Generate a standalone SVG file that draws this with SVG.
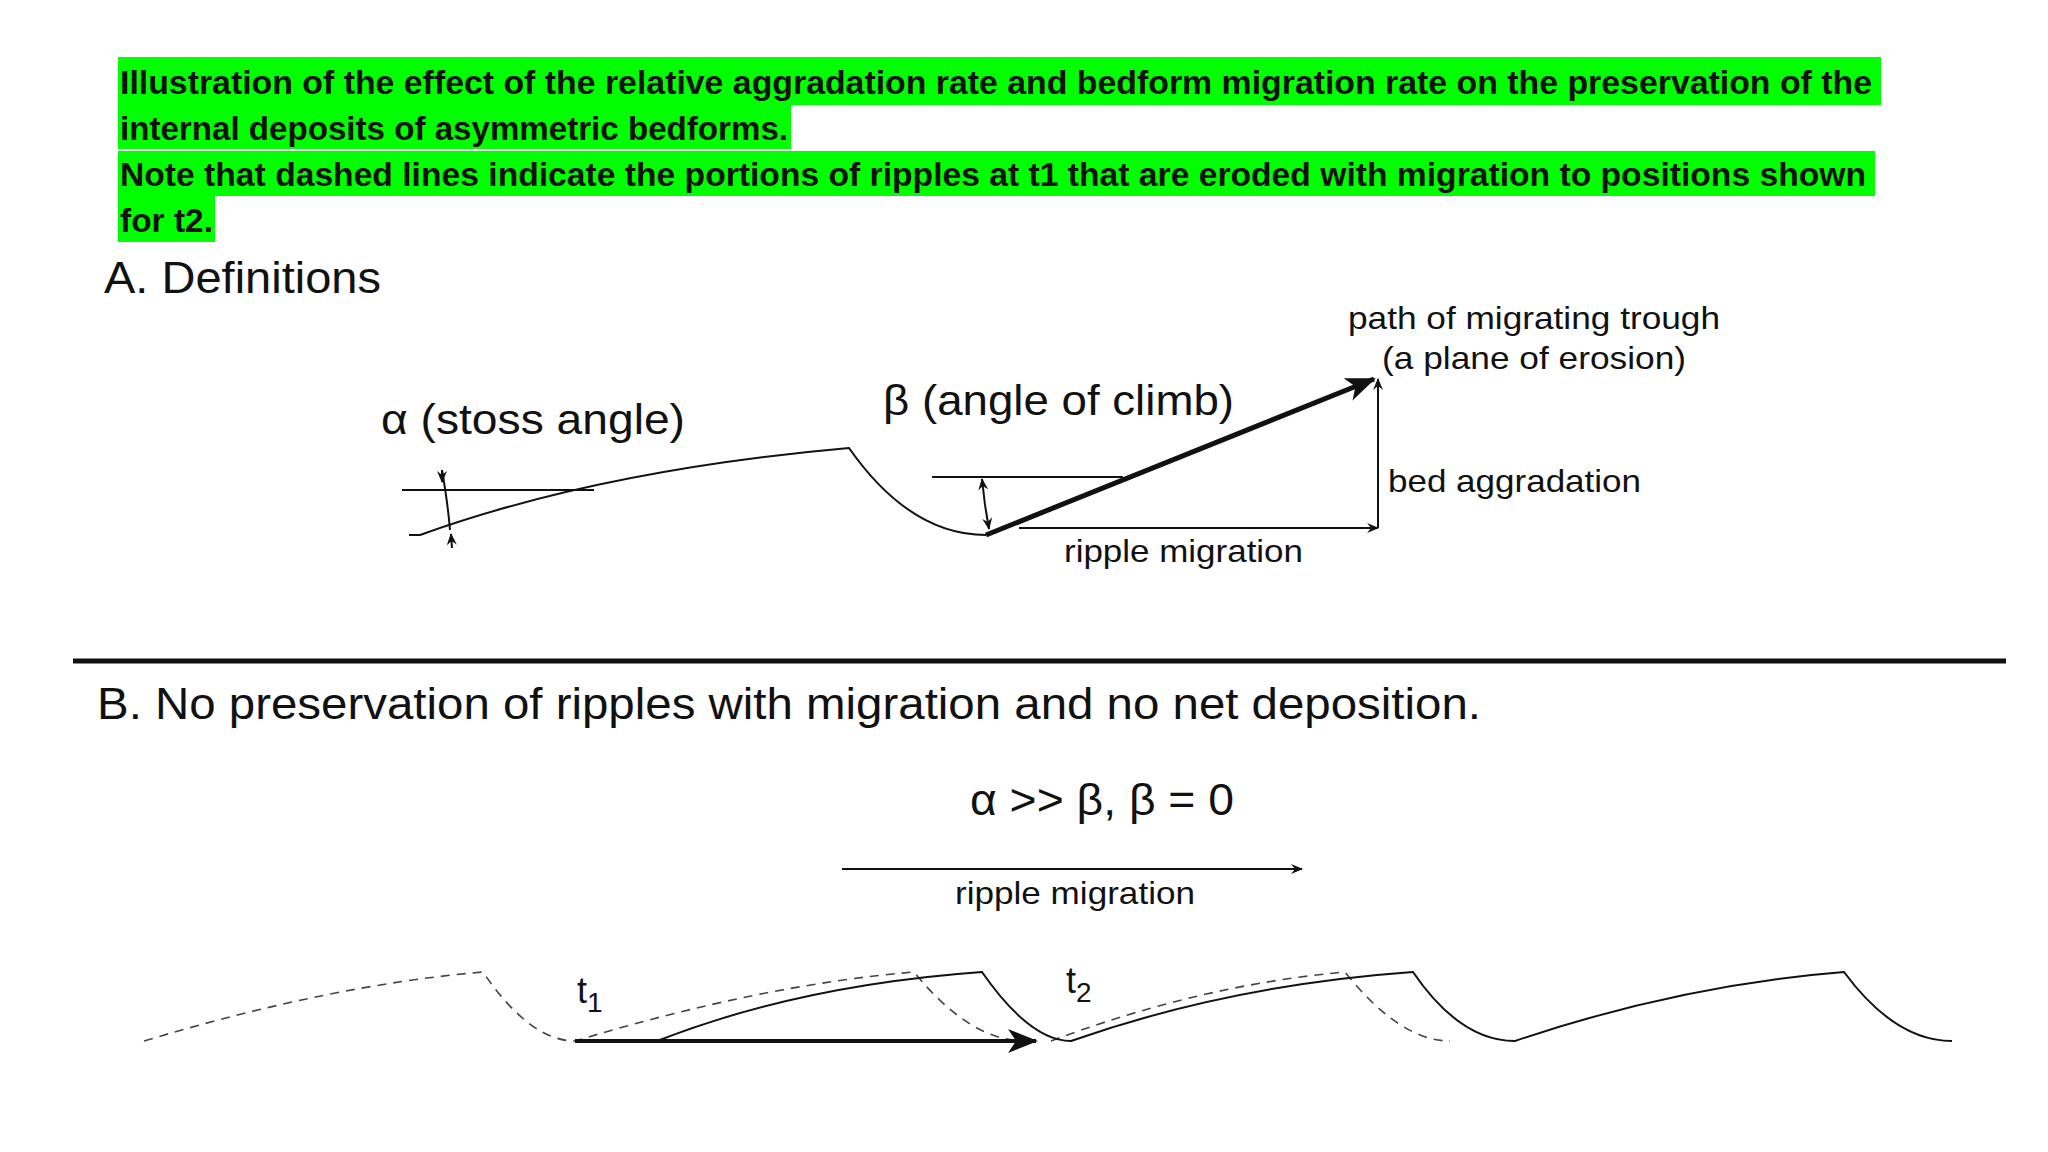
<svg xmlns="http://www.w3.org/2000/svg" width="2048" height="1152" viewBox="0 0 2048 1152">
<defs>
<style>
.hl{fill:#00ff00}
.tt{font-family:"Liberation Sans",Arial,sans-serif;font-weight:bold;font-size:33px;fill:#111}
.t{font-family:"Liberation Sans",Arial,sans-serif;fill:#111}
.ln{fill:none;stroke:#111;stroke-width:2}
.ds{fill:none;stroke:#444;stroke-width:1.6;stroke-dasharray:9,7}
</style>
<marker id="ah" markerWidth="12" markerHeight="10" refX="11" refY="5" orient="auto" markerUnits="userSpaceOnUse"><path d="M0,0 L12,5 L0,10 L4,5 Z" fill="#111"/></marker>
<marker id="ahb" markerWidth="30" markerHeight="24" refX="28" refY="12" orient="auto" markerUnits="userSpaceOnUse"><path d="M0,0 L30,12 L0,24 L8,12 Z" fill="#111"/></marker>
</defs>
<rect width="2048" height="1152" fill="#fff"/>
<g id="title">
<rect class="hl" x="118" y="57" width="1763" height="48"/>
<rect class="hl" x="118" y="105" width="673" height="44"/>
<rect class="hl" x="118" y="151" width="1757" height="45"/>
<rect class="hl" x="118" y="196" width="97" height="46"/>
<text class="tt" x="120" y="94" textLength="1752" lengthAdjust="spacingAndGlyphs">Illustration of the effect of the relative aggradation rate and bedform migration rate on the preservation of the</text>
<text class="tt" x="120" y="140" textLength="668" lengthAdjust="spacingAndGlyphs">internal deposits of asymmetric bedforms.</text>
<text class="tt" x="120" y="186" textLength="1746" lengthAdjust="spacingAndGlyphs">Note that dashed lines indicate the portions of ripples at t1 that are eroded with migration to positions shown</text>
<text class="tt" x="120" y="232" textLength="93" lengthAdjust="spacingAndGlyphs">for t2.</text>
</g>
<g id="sectionA">
<text class="t" x="104" y="293" font-size="44" textLength="277" lengthAdjust="spacingAndGlyphs">A. Definitions</text>
<text class="t" x="381" y="434" font-size="42" textLength="304" lengthAdjust="spacingAndGlyphs">α (stoss angle)</text>
<text class="t" x="883" y="415" font-size="42" textLength="351" lengthAdjust="spacingAndGlyphs">β (angle of climb)</text>
<text class="t" x="1348" y="329" font-size="32" textLength="372" lengthAdjust="spacingAndGlyphs">path of migrating trough</text>
<text class="t" x="1382" y="369" font-size="32" textLength="304" lengthAdjust="spacingAndGlyphs">(a plane of erosion)</text>
<text class="t" x="1388" y="492" font-size="32" textLength="253" lengthAdjust="spacingAndGlyphs">bed aggradation</text>
<text class="t" x="1064" y="562" font-size="32" textLength="239" lengthAdjust="spacingAndGlyphs">ripple migration</text>
</g>
<g id="connectors">
<path class="ln" d="M409,535 L420,535 Q600,470 849,448 Q910,535 986,535"/>
<line class="ln" x1="402" y1="490" x2="594" y2="490"/>
<path class="ln" d="M442,470 Q448,505 450,530"/>
<path class="ln" d="M442,470 l0,12" marker-end="url(#ah)"/>
<path class="ln" d="M452,548 l-1,-14" marker-end="url(#ah)"/>
<line class="ln" x1="932" y1="477" x2="1123" y2="477"/>
<line x1="986" y1="535" x2="1374" y2="379" stroke="#111" stroke-width="5" marker-end="url(#ahb)"/>
<line class="ln" x1="985" y1="505" x2="982" y2="479" marker-end="url(#ah)"/>
<line class="ln" x1="985" y1="505" x2="989" y2="529" marker-end="url(#ah)"/>
<line class="ln" x1="1019" y1="528" x2="1378" y2="528" marker-end="url(#ah)"/>
<line class="ln" x1="1378" y1="528" x2="1378" y2="379" marker-end="url(#ah)"/>
<line x1="73" y1="661" x2="2006" y2="661" stroke="#111" stroke-width="5"/>
<line class="ln" x1="842" y1="869" x2="1302" y2="869" marker-end="url(#ah)"/>
<path class="ds" d="M144,1041 Q330,985 483,972 Q530,1041 575,1041 Q760,985 914,972 Q970,1041 1025,1041"/>
<path class="ds" d="M1051,1041 Q1200,985 1345,972 Q1400,1041 1450,1041"/>
<path class="ln" d="M657,1041 Q800,985 982,972 Q1030,1041 1071,1041 Q1230,985 1413,972 Q1460,1041 1515,1041 Q1680,985 1844,972 Q1895,1041 1952,1041"/>
<line x1="575" y1="1041" x2="1036" y2="1041" stroke="#111" stroke-width="4" marker-end="url(#ahb)"/>
</g>
<g id="sectionB">
<text class="t" x="97" y="719" font-size="44" textLength="1384" lengthAdjust="spacingAndGlyphs">B.  No preservation of ripples with migration and no net deposition.</text>
<text class="t" x="970" y="815" font-size="44" textLength="264" lengthAdjust="spacingAndGlyphs">α &gt;&gt; β, β = 0</text>
<text class="t" x="955" y="904" font-size="32" textLength="240" lengthAdjust="spacingAndGlyphs">ripple migration</text>
<text class="t" x="577" y="1003" font-size="36">t<tspan font-size="28" dy="9">1</tspan></text>
<text class="t" x="1066" y="993" font-size="36">t<tspan font-size="28" dy="9">2</tspan></text>
</g>
</svg>
